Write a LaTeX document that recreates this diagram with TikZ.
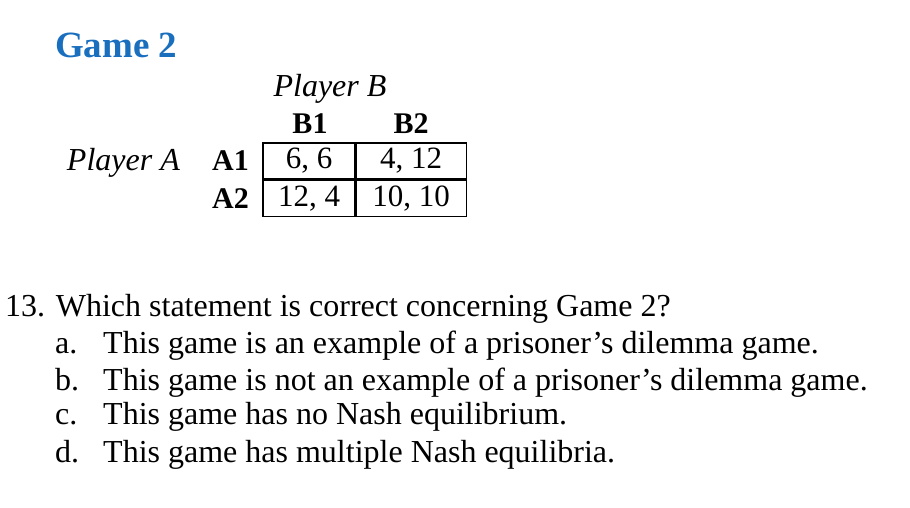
\documentclass[tikz,border=0pt]{standalone}
\usepackage{fontspec}
\setmainfont{Liberation Serif}
\definecolor{titleblue}{RGB}{25,110,190}
\begin{document}
\begin{tikzpicture}[x=1pt,y=-1pt,
  txt/.style={inner sep=0pt,font=\fontsize{32}{36}\selectfont},
  hd/.style={txt,font=\fontsize{30}{34}\selectfont\bfseries},
  cell/.style={draw,line width=1.2pt,minimum width=#1,minimum height=36pt,inner sep=0pt,font=\fontsize{31}{34}\selectfont}]
\useasboundingbox (0,0) rectangle (910,508);
\node[txt,anchor=base west,font=\fontsize{37}{40}\selectfont\bfseries,text=titleblue] (title) at (55,58) {Game 2};
\node[txt,anchor=base,font=\fontsize{32}{34}\selectfont\itshape] (pb) at (330,97) {Player B};
\node[hd,anchor=base] (b1) at (310,134) {B1};
\node[hd,anchor=base] (b2) at (411,134) {B2};
\node[cell=92pt] (c11) at (309,161) {6, 6};
\node[cell=110pt,anchor=west] (c12) at (c11.east) {4, 12};
\node[cell=92pt,anchor=north] (c21) at (c11.south) {12, 4};
\node[cell=110pt,anchor=west] (c22) at (c21.east) {10, 10};
\node[txt,font=\fontsize{32}{34}\selectfont\itshape,anchor=base east] (pa) at (180,171) {Player A};
\node[hd,anchor=base east] (a1) at (249,171) {A1};
\node[hd,anchor=base east] (a2) at (249,208) {A2};
\node[txt,anchor=base west] (q) at (5,316) {13. Which statement is correct concerning Game 2?};
\node[txt,anchor=base west] (la) at (55,353) {a.};
\node[txt,anchor=base west] (ta) at (103,353) {This game is an example of a prisoner’s dilemma game.};
\node[txt,anchor=base west] (lb) at (55,390) {b.};
\node[txt,anchor=base west] (tb) at (103,390) {This game is not an example of a prisoner’s dilemma game.};
\node[txt,anchor=base west] (lc) at (55,424) {c.};
\node[txt,anchor=base west] (tc) at (103,424) {This game has no Nash equilibrium.};
\node[txt,anchor=base west] (ld) at (55,462) {d.};
\node[txt,anchor=base west] (td) at (103,462) {This game has multiple Nash equilibria.};
\end{tikzpicture}
\end{document}
